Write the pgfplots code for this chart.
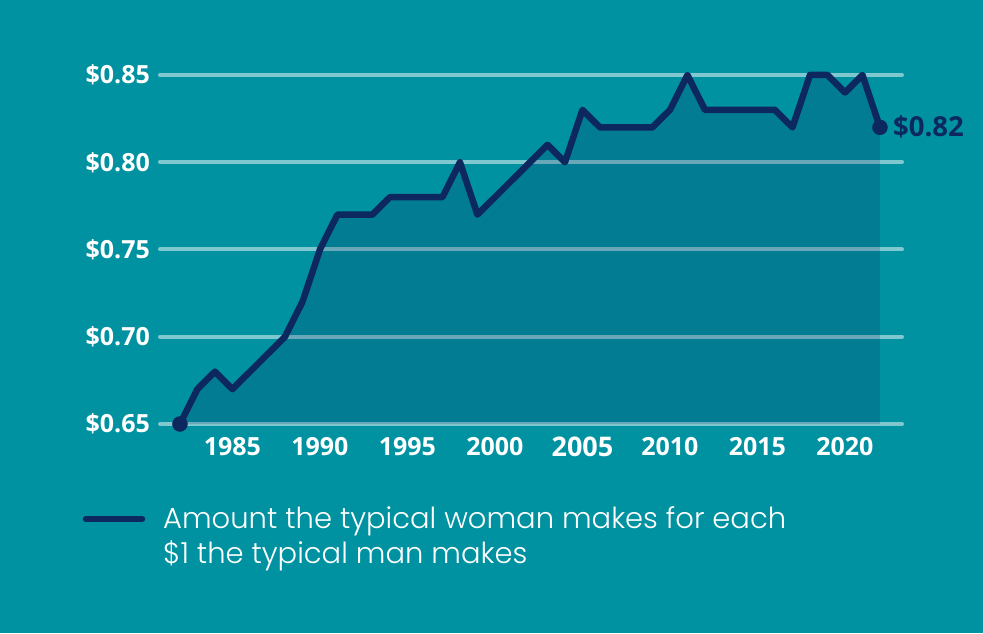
\documentclass[border=0pt]{standalone}
\usepackage{fontspec}
\setmainfont{Open Sans}
\newfontfamily\legfont{Poppins}[UprightFont=* Light]
\usepackage{pgfplots}
\usepackage{pgfplotstable}
\pgfplotsset{compat=1.18}

\definecolor{bgteal}{HTML}{0092A0}
\definecolor{navy}{HTML}{0C285E}

% women's earnings per $1 of men's
\pgfplotstableread{
year ratio
1982 0.65
1983 0.67
1984 0.68
1985 0.67
1986 0.68
1987 0.69
1988 0.70
1989 0.72
1990 0.75
1991 0.77
1992 0.77
1993 0.77
1994 0.78
1995 0.78
1996 0.78
1997 0.78
1998 0.80
1999 0.77
2000 0.78
2001 0.79
2002 0.80
2003 0.81
2004 0.80
2005 0.83
2006 0.82
2007 0.82
2008 0.82
2009 0.82
2010 0.83
2011 0.85
2012 0.83
2013 0.83
2014 0.83
2015 0.83
2016 0.83
2017 0.82
2018 0.85
2019 0.85
2020 0.84
2021 0.85
2022 0.82
}\gapdata

\begin{document}
\begin{tikzpicture}
\useasboundingbox (0,0) rectangle (983pt,633pt);
\fill[bgteal] (0,0) rectangle (983pt,633pt);

\begin{axis}[
    at={(160pt,209pt)}, anchor=south west,
    scale only axis,
    width=742pt, height=349pt,
    xmin=1980.86, xmax=2023.26,
    ymin=0.65, ymax=0.85,
    clip=false,
    axis line style={draw=none},
    major tick length=0pt,
    ytick={0.65,0.70,0.75,0.80,0.85},
    yticklabels={\$0.65,\$0.70,\$0.75,\$0.80,\$0.85},
    xtick={1985,1990,1995,2000,2005,2010,2015,2020},
    xticklabels={1985,1990,1995,2000,{\fontsize{27}{27}\selectfont 2005},2010,2015,2020},
    ymajorgrids,
    grid style={white, opacity=0.5, line width=4pt, line cap=round},
    ticklabel style={text=white, font=\bfseries\fontsize{25}{25}\selectfont, inner sep=0pt},
    yticklabel style={anchor=east, xshift=-10pt},
    xticklabel style={anchor=north, yshift=-13pt},
]

% shaded area under the line
\addplot[draw=none, fill=navy, fill opacity=0.2] table[x=year, y=ratio] {\gapdata} \closedcycle;

% the line itself
\addplot[navy, line width=6.5pt, line join=round, line cap=round] table[x=year, y=ratio] {\gapdata};

% end dots
\addplot[only marks, mark=*, mark size=7.5pt, navy] coordinates {(1982,0.65) (2022,0.82)};

\node[anchor=west, inner sep=0pt, xshift=13pt, text=navy, font=\bfseries\fontsize{27.5}{27.5}\selectfont]
    at (axis cs:2022,0.82) {\$0.82};
\end{axis}

% legend
\draw[navy, line width=6.5pt, line cap=round] (86pt,114pt) -- (142pt,114pt);
\node[anchor=base west, inner sep=0pt, text=white, font=\legfont\fontsize{29}{29}\selectfont]
    at (163pt,105pt) {Amount the typical woman makes for each};
\node[anchor=base west, inner sep=0pt, text=white, font=\legfont\fontsize{29}{29}\selectfont]
    at (163pt,70pt) {\$1 the typical man makes};
\end{tikzpicture}
\end{document}
